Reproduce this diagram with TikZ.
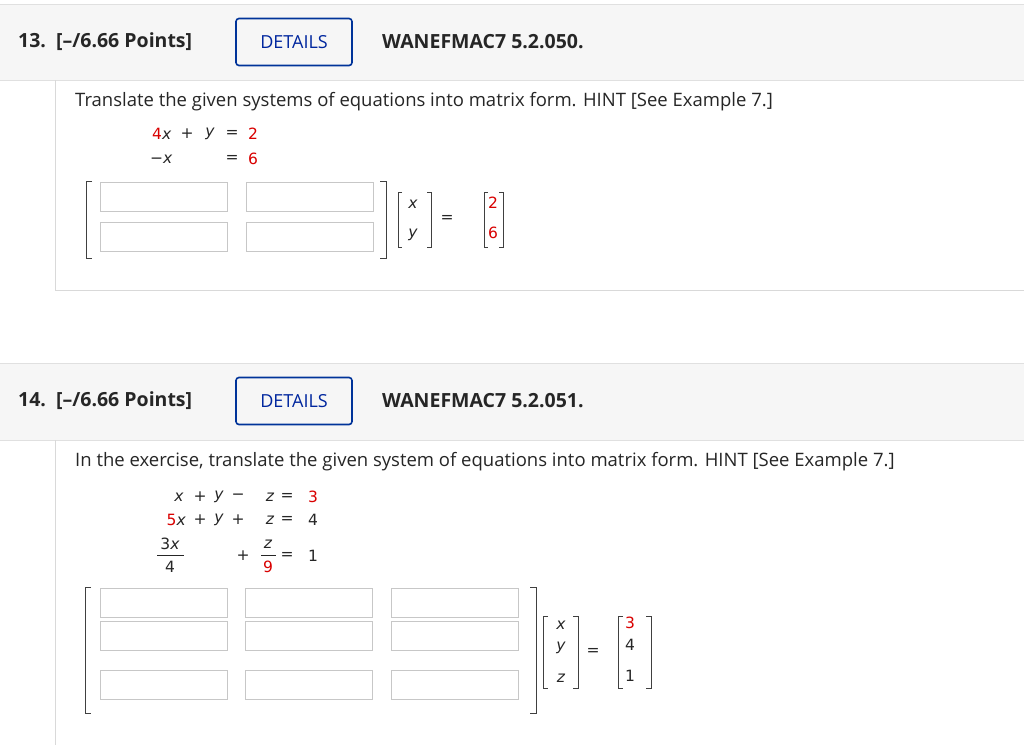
\documentclass[tikz,border=0pt]{standalone}
\usepackage{fontspec}
\setmainfont{Open Sans}
\newfontfamily\eqf{DejaVu Sans}
\begin{document}
\begin{tikzpicture}[x=1pt,y=-1pt,
  hdr/.style={font=\fontsize{19.5}{22}\selectfont\bfseries,anchor=west,text=black!85,inner sep=0pt},
  txt/.style={font=\fontsize{18.5}{21}\selectfont,anchor=west,text=black!85,inner sep=0pt},
  eq/.style={font=\eqf\fontsize{15.5}{18}\selectfont,inner sep=0pt,text=black!85},
  red/.style={text=red!85!black},
  inbox/.style={draw=black!22,line width=0.8pt,fill=white},
  brk/.style={draw=black!75,line width=1pt},
  det/.style={draw=blue!50!black!80!cyan,line width=1.6pt,rounded corners=3pt,text=blue!55!black!85!cyan,font=\fontsize{18}{21}\selectfont,minimum width=116pt,minimum height=47pt}]
\useasboundingbox (0,0) rectangle (1024,745);
\fill[white] (0,0) rectangle (1024,745);
% section 13
\fill[black!3.5] (0,4) rectangle (1024,80);
\draw[black!12] (0,4) -- (1024,4);
\draw[black!12] (0,80) -- (1024,80);
\node[hdr] (h13) at (18,42) {13.\ \ [--/6.66 Points]};
\node[det] (d13) at (294,42) {DETAILS};
\node[hdr] (w13) at (382,42) {WANEFMAC7 5.2.050.};
\draw[black!15] (55,80) -- (55,290) -- (1024,290);
\node[txt] (t13) at (75,102) {Translate the given systems of equations into matrix form. HINT [See Example 7.]};
\node[eq,anchor=west] (e1a) at (152,134) {\textcolor{red!85!black}{4}\textit{x}};
\node[eq] (e1b) at (187,134) {+};
\node[eq] (e1c) at (210,134) {\textit{y}};
\node[eq] (e1d) at (232,134) {=};
\node[eq,red] (e1e) at (253,134) {2};
\node[eq,anchor=west] (e2) at (150,159) {−\textit{x}};
\node[eq] (e2d) at (232,159) {=};
\node[eq,red] (e2e) at (253,159) {6};
\foreach \xa in {100,246}{
  \foreach \ya in {182,222}{
    \draw[inbox] (\xa,\ya) rectangle ++(127,29);}}
\draw[brk] (92,181) -- (86,181) -- (86,258) -- (92,258);
\draw[brk] (380,181) -- (386,181) -- (386,258) -- (380,258);
\draw[brk] (402,192) -- (398,192) -- (398,247) -- (402,247);
\draw[brk] (427,192) -- (431,192) -- (431,247) -- (427,247);
\node[eq] (vx) at (413,204) {\textit{x}};
\node[eq] (vy) at (413,235) {\textit{y}};
\node[eq] (q13) at (447,219) {=};
\draw[brk] (488,192) -- (484,192) -- (484,247) -- (488,247);
\draw[brk] (499,192) -- (503,192) -- (503,247) -- (499,247);
\node[eq,red] (b1) at (493,203) {2};
\node[eq,red] (b2) at (493,233) {6};
% section 14
\fill[black!3.5] (0,363) rectangle (1024,440);
\draw[black!12] (0,363) -- (1024,363);
\draw[black!12] (0,440) -- (1024,440);
\node[hdr] (h14) at (18,401) {14.\ \ [--/6.66 Points]};
\node[det] (d14) at (294,401) {DETAILS};
\node[hdr] (w14) at (382,401) {WANEFMAC7 5.2.051.};
\draw[black!15] (55,440) -- (55,745);
\node[txt] (t14) at (75,462) {In the exercise, translate the given system of equations into matrix form. HINT [See Example 7.]};
% equations
\node[eq] (r1a) at (179,497) {\textit{x}};
\node[eq] (r1b) at (200,497) {+};
\node[eq] (r1c) at (219,497) {\textit{y}};
\node[eq] (r1d) at (238,497) {−};
\node[eq] (r1e) at (270,497) {\textit{z}};
\node[eq] (r1f) at (287,497) {=};
\node[eq,red] (r1g) at (313,497) {3};
\node[eq,anchor=east] (r2a) at (186,520) {\textcolor{red!85!black}{5}\textit{x}};
\node[eq] (r2b) at (200,520) {+};
\node[eq] (r2c) at (219,520) {\textit{y}};
\node[eq] (r2d) at (238,520) {+};
\node[eq] (r2e) at (270,520) {\textit{z}};
\node[eq] (r2f) at (287,520) {=};
\node[eq] (r2g) at (313,520) {4};
\node[eq] (r3n) at (170,544) {3\textit{x}};
\draw[black!85,line width=0.8pt] (157,555) -- (184,555);
\node[eq] (r3d) at (170,567) {4};
\node[eq] (r3p) at (243,556) {+};
\node[eq] (r3z) at (268,544) {\textit{z}};
\draw[black!85,line width=0.8pt] (261,555) -- (276,555);
\node[eq,red] (r3n9) at (268,567) {9};
\node[eq] (r3f) at (287,556) {=};
\node[eq] (r3g) at (313,556) {1};
% matrix
\foreach \xa in {100,245,391}{
  \foreach \ya in {588,621,670}{
    \draw[inbox] (\xa,\ya) rectangle ++(127,29);}}
\draw[brk] (91,587) -- (85,587) -- (85,713) -- (91,713);
\draw[brk] (530,587) -- (536,587) -- (536,713) -- (530,713);
\draw[brk] (548,616) -- (543,616) -- (543,688) -- (548,688);
\draw[brk] (573,616) -- (578,616) -- (578,688) -- (573,688);
\node[eq] (wx) at (561,625) {\textit{x}};
\node[eq] (wy) at (561,648) {\textit{y}};
\node[eq] (wz) at (561,678) {\textit{z}};
\node[eq] (q14) at (593,652) {=};
\draw[brk] (623,616) -- (618,616) -- (618,688) -- (623,688);
\draw[brk] (646,616) -- (651,616) -- (651,688) -- (646,688);
\node[eq,red] (c1) at (630,623) {3};
\node[eq] (c2) at (630,645) {4};
\node[eq] (c3) at (630,676) {1};
\end{tikzpicture}
\end{document}
